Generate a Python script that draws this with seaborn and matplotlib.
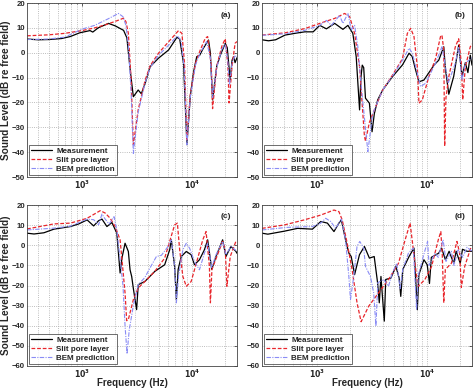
import matplotlib
matplotlib.use("Agg")
import matplotlib.pyplot as plt
import seaborn as sns

sns.set_style("white")
plt.rcParams["font.family"] = ["Liberation Sans", "DejaVu Sans"]
plt.rcParams["font.weight"] = "bold"

# ---- panel (a) ----
a_meas_f = [316, 400, 500, 650, 780, 950, 1180, 1250, 1400, 1735, 2000, 2380, 2550, 2750, 2920,
            3230, 3450, 3740, 4150, 4940, 6100, 7260, 7700, 8340, 8950, 9600, 10280, 10980, 11700,
            12500, 14060, 14600, 15300, 16700, 18000, 19950, 20800, 22100, 23000, 23750, 24500, 25500]
a_meas = [5.5, 5.2, 5.3, 5.7, 6.5, 8.0, 8.9, 8.3, 10.0, 11.8, 10.8, 9.0, 6.0, -8.0, -17.7,
          -15.0, -16.5, -12.3, -5.6, -2.2, 1.1, 6.2, 5.5, -4.3, -37.0, -17.5, -7.8, -1.6, -1.0,
          1.5, 5.1, 0.0, -19.0, -5.4, -1.0, 3.8, 2.0, -11.0, -3.0, -1.7, -4.0, -2.0]
a_slit_f = [316, 500, 700, 1000, 1300, 1620, 2000, 2380, 2500, 2630, 2780, 2920, 3230, 3740, 4150,
            4940, 6100, 7510, 8060, 8500, 8950, 9600, 10700, 11830, 13130, 13800, 14890, 15300,
            16700, 18600, 19950, 21100, 21600, 23000, 24500, 25500]
a_slit = [6.8, 7.2, 7.8, 8.9, 10.0, 11.2, 12.6, 13.9, 12.5, 7.8, -10.0, -37.0, -23.0, -11.0, -5.2,
          -0.2, 4.4, 8.9, 7.8, -4.0, -35.0, -17.0, -4.3, 1.1, 5.8, 6.5, -5.1, -22.5,
          -5.4, 2.7, 5.6, -5.4, -20.2, -5.4, 3.8, 4.5]
a_bem_f = [316, 500, 700, 1000, 1300, 1700, 2140, 2350, 2500, 2630, 2780, 2920, 3230, 3740, 4150,
           4940, 6100, 7300, 7900, 8450, 8950, 9600, 10700, 11830, 13500, 14600, 15300, 16700,
           18600, 19950, 21000, 21800, 23000, 24500, 25500]
a_bem = [5.3, 5.5, 6.3, 9.5, 11.0, 13.5, 15.8, 14.5, 11.0, 3.0, -15.0, -40.5, -24.0, -12.0, -6.0,
         -1.0, 3.0, 6.8, 5.0, -6.0, -37.0, -18.0, -5.0, 0.0, 4.5, -2.0, -18.0, -6.0,
         1.5, 3.5, -3.0, -13.0, -4.0, -1.0, -2.0]

# ---- panel (b) ----
b_meas_f = [316, 362, 420, 512, 650, 774, 921, 1057, 1215, 1444, 1716, 1905, 2110, 2265, 2430,
            2500, 2570, 2650, 2750, 2985, 3155, 3310, 3550, 3940, 4840, 5960, 6840, 7300, 7850,
            8410, 9330, 10740, 11500, 12730, 14130, 14600, 15700, 17400, 19300, 20700, 22200,
            23400, 24600, 25500]
b_meas = [5.2, 4.8, 5.2, 7.1, 7.9, 8.4, 8.4, 11.0, 9.6, 11.8, 9.4, 11.0, 7.8, -1.6, -23.0,
          -10.0, -5.0, -6.0, -18.3, -20.3, -31.8, -24.5, -19.0, -15.0, -9.6, -4.9, -0.2, -1.5, -7.0,
          -11.7, -11.0, -7.0, -5.0, -3.0, 2.4, -6.2, -16.7, -9.5, 3.0, -9.5, -4.0,
          -8.0, -1.0, -5.0]
b_slit_f = [316, 512, 774, 1057, 1444, 1780, 1975, 2190, 2430, 2690, 2750, 2985, 3310, 3940, 4840,
            5960, 6600, 7070, 7580, 8130, 8410, 9020, 10350, 11900, 13200, 13600, 14130, 14400,
            14800, 15700, 18000, 19300, 20400, 21000, 22200, 24600, 25500]
b_slit = [7.1, 8.0, 9.7, 11.8, 13.8, 15.8, 14.5, 7.8, -5.6, -33.6, -35.5, -28.0, -23.0, -15.0, -9.0,
          -2.4, 7.8, 9.8, 6.5, -5.6, -20.3, -19.0, -9.6, -2.4, 6.5, 7.1, 1.1, -37.6,
          -18.0, -9.6, 2.4, 5.6, -4.2, -18.9, -5.6, 2.4, 3.5]
b_bem_f = [316, 512, 774, 1057, 1215, 1347, 1600, 1716, 1905, 2040, 2190, 2345, 2510, 2890, 3200,
           3940, 4840, 5960, 6840, 7330, 7850, 8710, 9660, 11900, 13600, 14400, 15500, 18000,
           19300, 20700, 22200, 25500]
b_bem = [7.0, 7.6, 9.0, 11.0, 13.0, 11.0, 15.0, 11.8, 15.8, 9.2, 11.0, 2.4, -13.0, -39.8, -24.5,
         -15.0, -9.4, -3.0, 1.8, -0.2, -5.6, -13.6, -12.3, -4.2, 2.4, -3.6, -12.3, -4.2,
         2.4, -11.0, -4.2, -2.0]

# ---- panel (c) ----
c_meas_f = [316, 366, 450, 555, 785, 932, 1110, 1273, 1412, 1515, 1680, 1865, 2066, 2214, 2300,
            2455, 2630, 2725, 2820, 2920, 3125, 3235, 3715, 4570, 5620, 6240, 6460, 6920, 7180,
            7450, 7950, 8830, 9780, 10480, 11630, 12890, 13810, 15030, 16450, 18880, 20230,
            22440, 24900, 25500]
c_meas = [6.0, 5.6, 6.2, 8.0, 9.3, 10.6, 12.6, 9.6, 12.2, 13.0, 9.3, 11.3, 6.0, -13.8, -6.4,
          1.0, -3.1, -12.2, -15.5, -21.5, -32.0, -19.6, -18.0, -13.0, -9.7, -2.3, 2.7, -10.5, -27.0,
          -12.0, -5.6, -3.1, -4.7, -9.7, -7.2, -2.3, 2.7, -12.0, -5.6, 2.7, -5.6,
          -0.6, -3.0, -4.0]
c_slit_f = [316, 555, 785, 1110, 1462, 1620, 1800, 1995, 2214, 2455, 2540, 2630, 2920, 3235, 3715,
            4570, 5620, 6240, 6920, 7330, 7690, 8220, 8830, 9780, 11220, 12470, 13360, 14320,
            14620, 15100, 16980, 18880, 19950, 20650, 22140, 24900]
c_slit = [8.1, 10.6, 11.0, 13.4, 17.2, 16.0, 13.4, 9.3, 2.7, -23.7, -37.5, -36.9, -27.0, -21.2, -18.0,
          -13.0, -6.4, 1.9, 10.1, 11.0, -2.3, -15.5, -20.4, -18.0, -6.4, 2.7, 6.8, -10.5,
          -28.6, -12.0, -4.7, 1.9, -2.3, -20.4, -5.6, 1.9]
c_bem_f = [316, 555, 785, 1110, 1273, 1412, 1515, 1620, 1760, 1950, 2066, 2214, 2350, 2455, 2560,
           2680, 2920, 3235, 3715, 4260, 4730, 5250, 6030, 6460, 6920, 7180, 7500, 8220, 8830,
           9470, 10480, 11630, 12890, 13810, 15030, 16450, 18880, 20230, 22440, 25500]
c_bem = [7.6, 8.5, 9.5, 13.0, 12.7, 10.2, 15.5, 13.0, 10.5, 14.2, 7.6, -7.0, -20.0, -40.0, -54.0,
         -42.0, -30.0, -19.6, -16.0, -10.0, -5.6, -5.0, -0.6, 2.7, -10.5, -28.6, -15.5, -2.3, 1.0,
         -1.5, -8.0, -12.2, -4.0, 1.0, -11.0, -4.7, 1.9, -4.7, -0.6, -3.0]

# ---- panel (d) ----
d_meas_f = [316, 357, 505, 666, 907, 1080, 1240, 1423, 1578, 1660, 1812, 1942, 2040, 2190, 2425,
            2690, 2985, 3300, 3545, 3670, 3800, 4075, 4200, 4680, 5190, 5560, 5750, 6000, 6840,
            7580, 8130, 8400, 9330, 10000, 10480, 10900, 12730, 13500, 14620, 15800, 17400,
            18300, 19950, 20900, 23000, 25500]
d_meas = [6.0, 5.5, 7.0, 8.4, 8.0, 11.8, 11.0, 6.8, 11.0, 12.6, 2.7, -3.9, -5.6, -14.6, -4.7,
          -0.6, -6.4, -5.6, -18.8, -28.6, -15.5, -37.7, -17.0, -16.3, -10.5, -16.3, -25.4, -12.0, -5.6,
          -1.4, -32.0, -14.6, -7.2, -9.7, -19.0, -6.0, -3.9, -1.4, -7.2, -3.0, -9.0,
          -3.0, -9.0, -2.0, -3.0, -3.0]
d_slit_f = [316, 505, 764, 1080, 1423, 1578, 1690, 1876, 2080, 2305, 2510, 2940, 3610, 4450, 5480,
            6300, 6990, 7480, 8010, 8300, 9530, 10960, 12600, 13290, 13700, 14130, 14600, 16560,
            18620, 19700, 20400, 21900, 25100]
d_slit = [8.4, 10.1, 12.6, 15.0, 17.5, 16.7, 12.6, 1.0, -12.2, -28.6, -38.0, -30.3, -23.7, -17.0, -9.0,
          2.7, 11.0, -2.3, -15.5, -20.4, -17.0, -10.5, 2.7, 6.8, -5.0, -28.6, -12.0, -9.0,
          1.9, -4.0, -21.0, -10.5, -0.6]
d_bem_f = [316, 540, 907, 1080, 1197, 1328, 1473, 1660, 1812, 1942, 2010, 2150, 2305, 2440, 2650,
           2750, 3050, 3265, 3420, 3560, 4020, 4450, 4800, 5290, 5670, 6000, 6750, 7480, 8010,
           8300, 9200, 10070, 10400, 11750, 12600, 13940, 14800, 16560, 17500, 19050, 21000,
           23000, 25500]
d_bem = [7.6, 8.9, 9.3, 11.0, 13.4, 11.8, 8.4, 13.0, 2.7, -15.5, -27.0, -15.5, -0.6, 1.9, -1.4,
         -10.5, -15.5, -23.7, -40.2, -18.6, -17.0, -20.4, -14.0, -9.0, -21.5, -12.0, -3.9, -1.4, -32.0,
         -15.0, -5.6, 1.9, -10.0, -4.0, -6.0, 2.7, -8.0, -3.0, -10.0, -2.3, -6.0,
         -1.0, -3.0]

panels = [
    ("(a)", a_meas_f, a_meas, a_slit_f, a_slit, a_bem_f, a_bem, (-50, 20)),
    ("(b)", b_meas_f, b_meas, b_slit_f, b_slit, b_bem_f, b_bem, (-50, 20)),
    ("(c)", c_meas_f, c_meas, c_slit_f, c_slit, c_bem_f, c_bem, (-60, 20)),
    ("(d)", d_meas_f, d_meas, d_slit_f, d_slit, d_bem_f, d_bem, (-60, 20)),
]

W, H = 474, 389
fig = plt.figure(figsize=(W / 100, H / 100), dpi=100)
# axes boxes in pixels: left, top, right, bottom
boxes = [(27, 3, 237, 177), (262, 3, 472, 177), (27, 205, 237, 366), (262, 205, 472, 366)]

for i, (tag, mf, mv, sf, sv, bf, bv, ylim) in enumerate(panels):
    l, t, r, b = boxes[i]
    ax = fig.add_axes([l / W, 1 - b / H, (r - l) / W, (b - t) / H])
    sns.lineplot(x=mf, y=mv, ax=ax, color="black", lw=0.9, estimator=None, sort=False,
                 label="Measurement")
    sns.lineplot(x=sf, y=sv, ax=ax, color="#e8252b", lw=0.9, estimator=None, sort=False,
                 linestyle=(0, (3, 1.5)), label="Slit pore layer")
    sns.lineplot(x=bf, y=bv, ax=ax, color="#8a8cf5", lw=0.8, estimator=None, sort=False,
                 linestyle=(0, (4, 1.2, 1, 1.2)), label="BEM prediction")
    ax.set_xscale("log")
    ax.set_xlim(316, 25500)
    ax.set_ylim(*ylim)
    ax.set_yticks(range(ylim[0], ylim[1] + 1, 10))
    ax.set_xticks([1e3, 1e4], labels=[r"$\mathbf{10^{3}}$", r"$\mathbf{10^{4}}$"])
    ax.grid(True, which="both", axis="x", color="#a8a8a8", linestyle=":", lw=0.6)
    ax.grid(True, which="major", axis="y", color="#a8a8a8", linestyle=":", lw=0.6)
    ax.tick_params(which="both", direction="in", labelsize=5.6, length=2, width=0.5, pad=1.5,
                   top=True, right=True)
    ax.tick_params(which="minor", length=1)
    for sp in ax.spines.values():
        sp.set_linewidth(0.6)
        sp.set_color("#444444")
    ax.set_xlabel("")
    ax.set_ylabel("")
    ax.text(0.97, 0.95, tag, transform=ax.transAxes, ha="right", va="top",
            fontsize=6, fontweight="bold")
    leg = ax.legend(loc="lower left", fontsize=5.8, frameon=True, fancybox=False,
                    handlelength=2.6, borderpad=0.3, labelspacing=0.15, handletextpad=0.5,
                    borderaxespad=0.25)
    leg.get_frame().set_edgecolor("black")
    leg.get_frame().set_linewidth(0.5)
    if i % 2 == 0:
        ax.set_ylabel("Sound Level (dB re free field)", fontsize=7.2, fontweight="bold",
                      labelpad=0.5)
    if i >= 2:
        fig.text((l + r) / 2 / W, 1 - 383 / H, "Frequency (Hz)", ha="center", va="center",
                 fontsize=7, fontweight="bold")

fig.savefig("out.png", dpi=100)
